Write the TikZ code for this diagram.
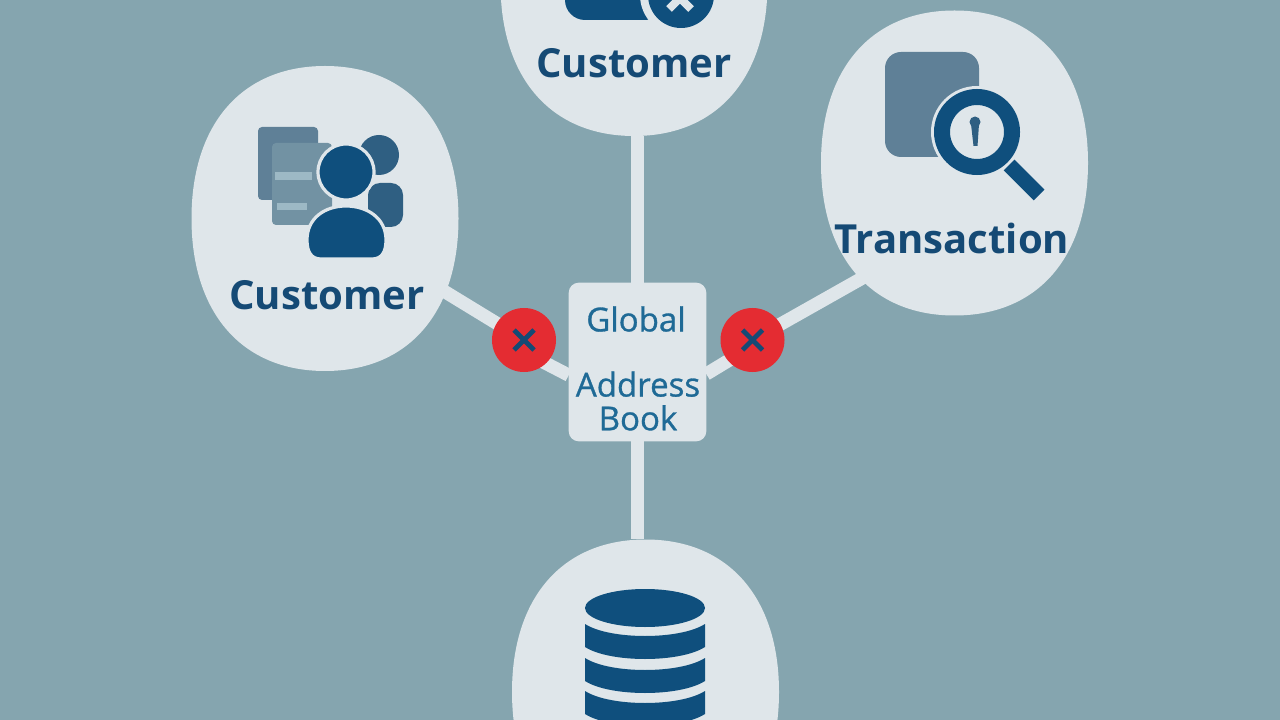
\documentclass[tikz,border=0pt]{standalone}
\usepackage{fontspec}
\setmainfont{Open Sans}
\newfontfamily\boxfont{Open Sans}[FakeBold=0.9]
\definecolor{bgcol}{HTML}{85A5AF}
\definecolor{blobcol}{HTML}{DFE6EA}
\definecolor{darkcol}{HTML}{0F4F7D}
\definecolor{textcol}{HTML}{154A75}
\definecolor{boxtext}{HTML}{1F6A96}
\definecolor{midcol}{HTML}{2F5F82}
\definecolor{doccol}{HTML}{5F8097}
\definecolor{paler}{HTML}{7292A3}
\definecolor{barcol}{HTML}{9DB9C5}
\definecolor{redcol}{HTML}{E42C32}
\tikzset{
 blob/.style={minimum width=6.675cm,minimum height=7.625cm,inner sep=0pt},
 link/.style={draw=blobcol,line width=0.33cm},
 title/.style={text=textcol,font=\fontsize{28.5}{28.5}\selectfont\bfseries},
 boxlabel/.style={text=boxtext,font=\boxfont\fontsize{23.5}{24}\selectfont,align=center},
 redmark/.style={circle,fill=redcol,minimum size=1.6cm,inner sep=0pt},
 crossbar/.style={draw=textcol,line width=0.12cm},
 halo/.style={draw=blobcol,line width=0.08cm},
}
\begin{document}
\begin{tikzpicture}
[x=0.025cm,y=-0.025cm]
\useasboundingbox (0,0) rectangle (1280,720);
\clip (0,0) rectangle (1280,720);
\fill [bgcol] (0,0) rectangle (1280,720);
% places of the blocks
\node [blob] (custleft) at (325,218.5) {};
\node [blob] (custtop) at (634,-16.5) {};
\node [blob] (trans) at (954.5,163) {};
\node [blob] (store) at (645.5,692) {};
\node [minimum width=3.425cm,minimum height=3.95cm,inner sep=0pt] (book) at (637.5,362) {};
\coordinate (markleftc) at (524,340);
\coordinate (markrightc) at (752.5,340);
% connectors
\draw [link] (book.north) -- (book.north |- custtop.south);
\draw [link] (book.south) -- (book.south |- store.north);
\draw [link] (custleft.center) -- (markleftc);
\draw [link] ([yshift=-0.3cm]markleftc) -- ([yshift=-0.33cm]book.west);
\draw [link] ([yshift=-0.15cm]markrightc) -- ([yshift=-0.3cm]book.east);
\draw [link] (markrightc) -- ([yshift=-1.575cm]trans.center);
% the round blocks
\foreach \cx/\cy in {325/218.5,634/-16.5,954.5/163,645.5/692} {
\fill [blobcol,shift={(\cx,\cy)}] (-133.5,0) .. controls (-133.5,-94.5) and (-83,-152.5) .. (0,-152.5) .. controls (83,-152.5) and (133.5,-94.5) .. (133.5,0) .. controls (133.5,94.5) and (83,152.5) .. (0,152.5) .. controls (-83,152.5) and (-133.5,94.5) .. (-133.5,0) -- cycle;
}
\fill [blobcol,rounded corners=0.25cm] (book.south west) rectangle (book.north east);
\node [redmark] (markleft) at (markleftc) {};
\node [redmark] (markright) at (markrightc) {};
\draw [crossbar] (514,330) -- (534,350);
\draw [crossbar] (534,330) -- (514,350);
\draw [crossbar] (742.5,330) -- (762.5,350);
\draw [crossbar] (762.5,330) -- (742.5,350);
% labels
\node [title] (custleftlabel) at (327,295) {Customer};
\node [title] (custtoplabel) at (634,63) {Customer};
\node [title] (translabel) at (952,238) {Transaction};
\node [boxlabel] (globallabel) at (636,319) {Global};
\node [boxlabel] (addresslabel) at (638,401) {Address\\Book};
% left icon
\fill [doccol,rounded corners=0.1cm] (258,127) rectangle (318,200);
\fill [paler,rounded corners=0.1cm] (272,143) rectangle (332,225);
\fill [barcol] (275,172) rectangle (312,180);
\fill [barcol] (277,203) rectangle (307,210);
\fill [midcol] (379,155) circle (20);
\fill [midcol,rounded corners=0.3cm] (368,183) rectangle (403,227);
\draw [halo,fill=darkcol] (346,172) circle (28);
\draw [halo,fill=darkcol] (307,240) .. controls (307,218) and (325,206) .. (346,206) .. controls (367,206) and (386,218) .. (386,240) .. controls (386,253) and (381,259) .. (372,259) -- (321,259) .. controls (312,259) and (307,253) .. (307,240) -- cycle;
% top icon
\fill [darkcol,rounded corners=0.5cm] (565,-30) rectangle (665,20);
\fill [blobcol] (681,-5) circle (41);
\fill [darkcol] (681,-5) circle (33);
\draw [draw=blobcol,line width=0.2cm] (669,-13) -- (691,9);
\draw [draw=blobcol,line width=0.2cm] (691,-13) -- (669,9);
% magnifier
\fill [doccol,rounded corners=0.4cm] (885,52) rectangle (979,157);
\fill [blobcol] (977,132) circle (46);
\draw [darkcol,line width=0.38cm] (1009,165) -- (1039,195);
\fill [blobcol] (977,132) circle (34);
\draw [darkcol,line width=0.4cm] (977,132) circle (35);
\fill [midcol] (975,122) circle (5.5);
\fill [midcol] (971,124) -- (979,124) -- (977.5,146) -- (973.5,146) -- cycle;
% database
\fill [darkcol] (645,608) ellipse (60 and 19);
\foreach \y in {624,658,691} {
\fill [darkcol] (585,\y) .. controls (610,\y+16) and (680,\y+16) .. (705,\y) -- (705,\y+23) .. controls (680,\y+39) and (610,\y+39) .. (585,\y+23) -- cycle;
}
\end{tikzpicture}
\end{document}
